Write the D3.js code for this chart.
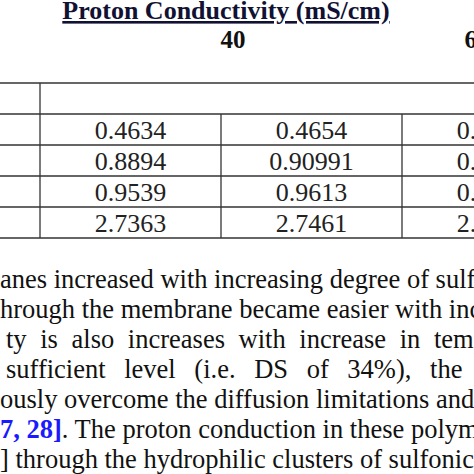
<!DOCTYPE html>
<html><head><meta charset="utf-8">
<script src="https://cdn.jsdelivr.net/npm/d3@7"></script>
<style>body{margin:0;background:#fff}svg{display:block}</style>
</head><body>
<script>
// table content
const temps = ["40", "60"];
const col1 = [0.4634, 0.8894, 0.9539, 2.7363];
const col2 = [0.4654, 0.90991, 0.9613, 2.7461];
const col3 = [0.4672, 0.9213, 0.9695, 2.7589]; // only first digits visible
const bodyLines = [
  "anes increased with increasing degree of sulfonation",
  "hrough the membrane became easier with increasing",
  "ty is also increases with increase in temperature",
  "sufficient level (i.e. DS of 34%), the ionic",
  "ously overcome the diffusion limitations and",
  "|7, 28]|. The proton conduction in these polymers",
  "] through the hydrophilic clusters of sulfonic acid"
];
const wordSpace = [0, 0, 7, 12, 0, 0, 0];

const W = 474, H = 474;
const svg = d3.select("body").append("svg").attr("width", W).attr("height", H);
const serif = "'Liberation Serif','Times New Roman',serif";

svg.append("text").attr("x", 226).attr("y", 19).attr("text-anchor", "middle")
  .attr("font-family", serif).attr("font-weight", "bold").attr("font-size", 26)
  .attr("text-decoration", "underline").attr("fill", "#111133")
  .text("Proton Conductivity (mS/cm)");

const tx = d3.scaleOrdinal().domain(temps).range([233, 477]);
svg.selectAll(".temp").data(temps).join("text")
  .attr("x", d => tx(d)).attr("y", 48).attr("text-anchor", "middle")
  .attr("font-family", serif).attr("font-weight", "bold").attr("font-size", 25)
  .attr("fill", "#111").text(d => d);

// table grid
const y = d3.scaleLinear().domain([0, 5]).range([83, 238]);
const colX = [40, 221, 402, 583];
const g = svg.append("g").attr("stroke", "#333").attr("stroke-width", 1.3);
d3.range(6).forEach(i => g.append("line").attr("x1", 0).attr("x2", W).attr("y1", y(i)).attr("y2", y(i)));
g.append("line").attr("x1", colX[0]).attr("x2", colX[0]).attr("y1", y(0)).attr("y2", y(5));
[1, 2].forEach(c => g.append("line").attr("x1", colX[c]).attr("x2", colX[c]).attr("y1", y(1)).attr("y2", y(5)));

[col1, col2, col3].forEach((col, c) => {
  svg.selectAll(".c" + c).data(col).join("text")
    .attr("x", (colX[c] + colX[c + 1]) / 2).attr("y", (d, i) => y(i + 1.5) + 9)
    .attr("text-anchor", "middle").attr("font-family", serif).attr("font-size", 26)
    .attr("fill", "#222").text(d => d);
});

// paragraph text
bodyLines.forEach((line, i) => {
  const t = svg.append("text").attr("x", i === 2 || i === 3 ? 6 : 0).attr("y", 288 + i * 30)
    .attr("font-family", serif).attr("font-size", 26.5).attr("fill", "#111")
    .attr("word-spacing", wordSpace[i]);
  line.split("|").forEach((part, k) => {
    const s = t.append("tspan").text(part);
    if (k === 1) s.attr("fill", "#1a1aff").attr("font-weight", "bold");
  });
});
</script>
</body></html>
